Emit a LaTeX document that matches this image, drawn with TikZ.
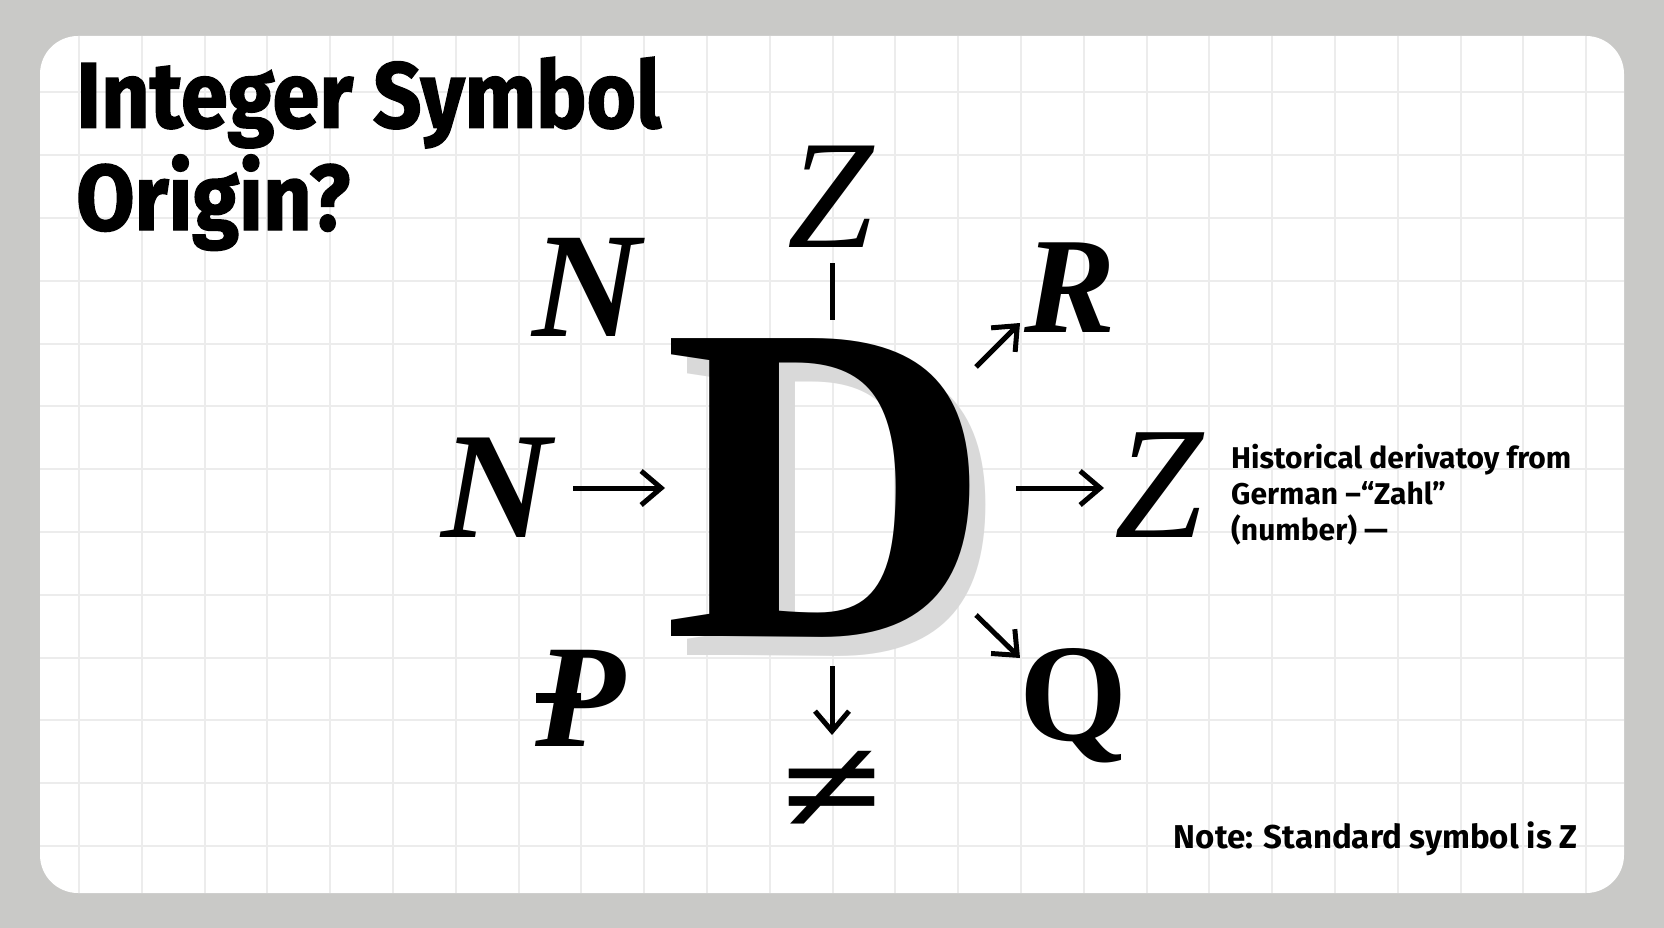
\documentclass[tikz,border=0pt]{standalone}
\usepackage{fontspec}
\setmainfont{Liberation Serif}
\newfontfamily\labelfont{Fira Sans}
\newfontfamily\titlefont{Fira Sans}[BoldFeatures={FakeBold=1.6}]
\usetikzlibrary{arrows.meta}

\definecolor{pagegray}{HTML}{C9C9C7}
\definecolor{gridgray}{HTML}{ECECEC}
\definecolor{shadowgray}{HTML}{D9D9D9}

\newcommand{\glyphsize}[1]{\fontsize{#1}{#1}\selectfont}
\newcommand{\bigD}{{\glyphsize{455}\bfseries D}}

\begin{document}
\begin{tikzpicture}[x=1pt,y=-1pt]

\tikzset{glyph/.style={inner sep=0pt,outer sep=0pt}}
\tikzset{arr/.style={draw,line width=5pt,-{Straight Barb[length=20pt,width=34pt]}}}
\tikzset{stem/.style={draw,line width=5pt}}
\tikzset{title/.style={anchor=base west,inner sep=0pt,font={\titlefont\bfseries\fontsize{93}{90}\selectfont}}}
\tikzset{note/.style={align=left,inner sep=0pt,font={\labelfont\bfseries\fontsize{30}{36}\selectfont}}}

\useasboundingbox (0,0) rectangle (1664,928);
\fill[pagegray] (0,0) rectangle (1664,928);
\fill[white,rounded corners=38pt] (40,36) rectangle (1624,893);

% grid
\begin{scope}
\clip[rounded corners=38pt] (40,36) rectangle (1624,893);
\foreach \gx in {0,...,24}
  \draw[gridgray,line width=2pt] ({79+62.8*\gx},36) -- ({79+62.8*\gx},893);
\foreach \gy in {1,...,13}
  \draw[gridgray,line width=2pt] (40,{29.5+62.8*\gy}) -- (1624,{29.5+62.8*\gy});
\end{scope}

\node[title] (title) at (76,230) {\scalebox{0.91}[1]{\begin{tabular}[b]{@{}l@{}}Integer Symbol\\Origin?\end{tabular}}};

% the big D and its shadow
\node[glyph,text=shadowgray] (dshadow) at (844,507) {\bigD};
\node[glyph] (dbig) at (828,488) {\bigD};

% letters round it
\node[glyph,font={\bfseries\itshape\glyphsize{150}}] (nup) at (587,287) {N};
\node[glyph,font={\bfseries\itshape\glyphsize{152}}] (nmid) at (496,488) {N};
\node[glyph,font={\itshape\glyphsize{155}}] (ztop) at (831,197) {Z};
\node[glyph,font={\itshape\glyphsize{160}}] (zright) at (1159,485) {Z};
\node[glyph,font={\bfseries\itshape\glyphsize{137}}] (rr) at (1070,288) {R};
\node[glyph,anchor=base,font={\bfseries\glyphsize{139}}] (qq) at (1074,740) {Q};
\node[glyph,anchor=base,font={\bfseries\itshape\glyphsize{147}}] (pp) at (580,746) {\rlap{\kern1pt\rule[43pt]{45pt}{10pt}}P};
\node[glyph,font={\bfseries\glyphsize{184}}] (neq) at (832,792) {\scalebox{1}[0.75]{≠}};

\node[note,anchor=north west] (hist) at (1231,444) {Historical derivatoy from\\German –“Zahl”\\(number) —};
\node[note,anchor=base east,font={\labelfont\bfseries\fontsize{33}{36}\selectfont}] (std) at (1578,848) {Note: Standard symbol is Z};

% connectors
\draw[arr] ([shift={(77,0)}]nmid.center) -- ([shift={(-163,0)}]dbig.center);
\draw[arr] ([shift={(188,0)}]dbig.center) -- ([shift={(-55,3)}]zright.center);
\draw[stem] ([shift={(1,66)}]ztop.center) -- ([shift={(4,-168)}]dbig.center);
\draw[arr] ([shift={(148,-121)}]dbig.center) -- ([shift={(-50,35)}]rr.center);
\draw[arr] ([shift={(148,127)}]dbig.center) -- ([shift={(-54,-82)}]qq.base);
\draw[arr] ([shift={(4,178)}]dbig.center) -- ([shift={(0,-57)}]neq.center);

\end{tikzpicture}
\end{document}
